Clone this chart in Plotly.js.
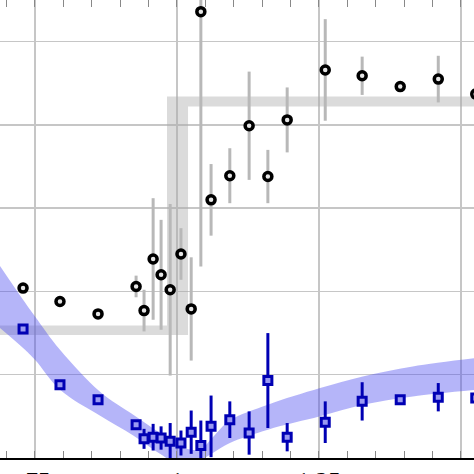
<!DOCTYPE html>
<html>
<head>
<meta charset="utf-8">
<script src="https://cdn.plot.ly/plotly-3.0.1.min.js"></script>
<style>
  html, body { margin: 0; padding: 0; background: #fff; }
  #plot { width: 474px; height: 474px; }
</style>
</head>
<body>
<div id="plot"></div>
<script>
// measured points (shared x for both series)
let xPoints = [0.729, 0.794, 0.861, 0.928, 0.942, 0.958, 0.972, 0.988, 1.007, 1.025, 1.042,
               1.060, 1.093, 1.127, 1.160, 1.194, 1.261, 1.326, 1.393, 1.460, 1.526];

let circleY = [2.04, 1.88, 1.73, 2.06, 1.77, 2.39, 2.20, 2.02, 2.45, 1.79, 5.36,
               3.10, 3.39, 3.99, 3.38, 4.06, 4.66, 4.59, 4.46, 4.55, 4.37];
let circleErr = [0, 0, 0, 0.13, 0.25, 0.73, 0.66, 1.03, 0.31, 0.62, 3.06,
                 0.43, 0.33, 0.65, 0.32, 0.39, 0.61, 0.23, 0, 0.28, 0];

let squareY = [1.55, 0.88, 0.70, 0.40, 0.23, 0.25, 0.24, 0.20, 0.18, 0.31, 0.15,
               0.38, 0.46, 0.30, 0.93, 0.25, 0.43, 0.68, 0.70, 0.73, 0.72];
let squareErr = [0, 0, 0, 0, 0.12, 0.16, 0.14, 0.22, 0.15, 0.26, 0.30,
                 0.37, 0.22, 0.26, 0.57, 0.17, 0.25, 0.23, 0, 0.17, 0];

// blue model band
let bandX = [0.685, 0.729, 0.750, 0.794, 0.864, 0.923, 0.970, 1.005, 1.040, 1.063, 1.093,
             1.160, 1.252, 1.327, 1.415, 1.526];
let bandUpper = [2.34, 1.90, 1.70, 1.30, 0.80, 0.52, 0.30, 0.14, 0.10, 0.25, 0.45,
                 0.64, 0.84, 0.98, 1.10, 1.20];
let bandLower = [1.58, 1.32, 1.18, 0.82, 0.51, 0.27, 0.05, -0.08, -0.03, 0.06, 0.18,
                 0.34, 0.50, 0.64, 0.74, 0.82];

// grey step model
let stepEdges = [0.9824, 1.0194];
let stepLowLevel = [1.476, 1.59];
let stepHighLevel = [4.22, 4.34];
let stepSpan = [0.68, 1.53];

let tickValues = [0.75, 1, 1.25, 1.5];
let tickLabels = ['.75', '1', '1.25', '1.5'];

let data = [
  {
    x: [stepSpan[0], stepEdges[1], stepSpan[1]],
    y: [stepLowLevel[0], stepHighLevel[0], stepHighLevel[0]],
    mode: 'lines',
    line: { width: 0, shape: 'hv' },
    hoverinfo: 'skip'
  },
  {
    x: [stepSpan[0], stepEdges[0], stepSpan[1]],
    y: [stepLowLevel[1], stepHighLevel[1], stepHighLevel[1]],
    mode: 'lines',
    line: { width: 0, shape: 'hv' },
    fill: 'tonexty',
    fillcolor: 'rgba(170,170,170,0.42)',
    hoverinfo: 'skip'
  },
  {
    x: bandX,
    y: bandLower,
    mode: 'lines',
    line: { width: 0, shape: 'spline' },
    hoverinfo: 'skip'
  },
  {
    x: bandX,
    y: bandUpper,
    mode: 'lines',
    line: { width: 0, shape: 'spline' },
    fill: 'tonexty',
    fillcolor: 'rgba(70,70,240,0.40)',
    hoverinfo: 'skip'
  },
  {
    x: xPoints,
    y: circleY,
    mode: 'markers',
    error_y: { type: 'data', array: circleErr, visible: true, color: '#b8b8b8', thickness: 3, width: 0 },
    marker: { symbol: 'circle', size: 8, color: '#e6e6e6', line: { color: '#000', width: 3.5 } }
  },
  {
    x: xPoints,
    y: squareY,
    mode: 'markers',
    error_y: { type: 'data', array: squareErr, visible: true, color: '#0000b4', thickness: 3, width: 0 },
    marker: { symbol: 'square', size: 8, color: '#9a9af2', line: { color: '#0000b4', width: 3 } }
  }
];

let layout = {
  width: 474,
  height: 474,
  margin: { l: 0, r: 0, t: 0, b: 16 },
  paper_bgcolor: '#fff',
  plot_bgcolor: '#fff',
  showlegend: false,
  xaxis: {
    range: [0.6884, 1.5229],
    tickvals: tickValues,
    ticktext: tickLabels,
    ticks: 'inside',
    ticklen: 7,
    tickwidth: 1,
    tickcolor: '#888',
    showline: true,
    linecolor: '#000',
    linewidth: 1.5,
    mirror: 'ticks',
    showgrid: true,
    gridcolor: '#c6c6c6',
    gridwidth: 1.5,
    zeroline: false,
    minor: { dtick: 0.05, tick0: 0, ticks: 'inside', ticklen: 7, tickcolor: '#888', showgrid: false },
    tickfont: { family: 'Liberation Serif, DejaVu Serif, serif', size: 25, color: '#000' }
  },
  yaxis: {
    range: [0, 5.5],
    tick0: 0,
    dtick: 1,
    showgrid: true,
    gridcolor: '#c6c6c6',
    gridwidth: 1.5,
    zeroline: false,
    showticklabels: false,
    ticks: '',
    showline: false
  }
};

Plotly.newPlot('plot', data, layout, { staticPlot: true });
</script>
</body>
</html>
